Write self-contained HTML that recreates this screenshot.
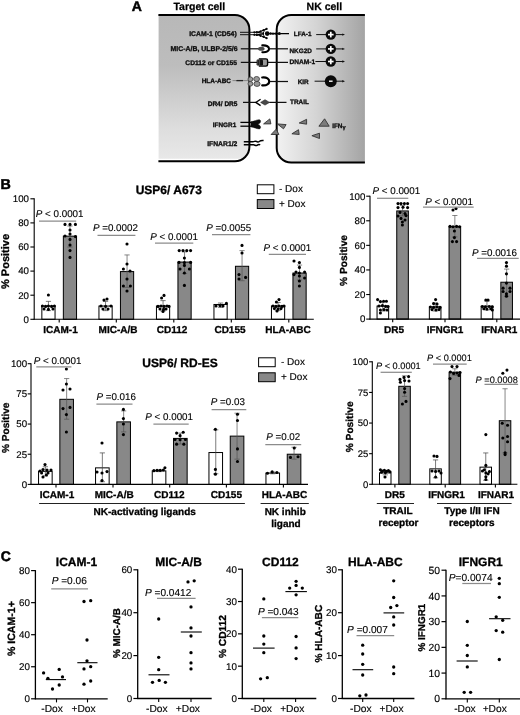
<!DOCTYPE html>
<html><head><meta charset="utf-8"><title>Figure</title>
<style>html,body{margin:0;padding:0;background:#fff}svg{display:block}</style></head>
<body>
<svg width="520" height="715" viewBox="0 0 520 715" text-rendering="geometricPrecision" font-family="Liberation Sans, Arial, sans-serif">
<defs>
<linearGradient id="gT" x1="0" y1="0" x2="0" y2="1"><stop offset="0" stop-color="#b8b8b8"/><stop offset="0.35" stop-color="#bdbdbd"/><stop offset="0.8" stop-color="#dedede"/><stop offset="1" stop-color="#e8e8e8"/></linearGradient>
<linearGradient id="gN" x1="0" y1="0" x2="1" y2="0"><stop offset="0" stop-color="#f2f2f2"/><stop offset="0.45" stop-color="#d4d4d4"/><stop offset="1" stop-color="#a4a4a4"/></linearGradient>
</defs>
<rect width="520" height="715" fill="#fff"/>
<text x="131.80" y="11.40" font-size="14" font-weight="bold" text-anchor="start" fill="#000" stroke="#000" stroke-width="0.5">A</text>
<text x="199.30" y="10.40" font-size="10.5" font-weight="bold" text-anchor="middle" fill="#000" stroke="#000" stroke-width="0.25">Target cell</text>
<text x="324.40" y="10.40" font-size="10.5" font-weight="bold" text-anchor="middle" fill="#000" stroke="#000" stroke-width="0.25">NK cell</text>
<path d="M158.6,15 H234.9 A14.5,14.5 0 0 1 249.4,29.5 V146.7 A12.0,12.0 0 0 1 237.4,158.7 H158.6 Z" fill="url(#gT)"/>
<path d="M158.4,15 H234.9 A14.5,14.5 0 0 1 249.4,29.5 V146.7 A14.5,14.5 0 0 1 234.9,161.2 H158.4" fill="none" stroke="#000" stroke-width="2"/>
<path d="M364.9,15 H291.2 A14.5,14.5 0 0 0 276.7,29.5 V148.0 A14.5,14.5 0 0 0 291.2,162.5 H364.9 Z" fill="url(#gN)"/>
<path d="M364.9,15 H291.2 A14.5,14.5 0 0 0 276.7,29.5 V148.0 A14.5,14.5 0 0 0 291.2,162.5 H364.9" fill="none" stroke="#000" stroke-width="2"/>
<text x="236.70" y="36.20" font-size="6.85" font-weight="bold" text-anchor="end" fill="#0d0d0d"  stroke="#0d0d0d" stroke-width="0.3">ICAM-1 (CD54)</text>
<text x="237.60" y="51.40" font-size="6.9" font-weight="bold" text-anchor="end" fill="#0d0d0d"  stroke="#0d0d0d" stroke-width="0.3">MIC-A/B, ULBP-2/5/6</text>
<text x="237.00" y="64.90" font-size="6.7" font-weight="bold" text-anchor="end" fill="#0d0d0d"  stroke="#0d0d0d" stroke-width="0.3">CD112 or CD155</text>
<text x="237.50" y="105.80" font-size="6.55" font-weight="bold" text-anchor="end" fill="#0d0d0d"  stroke="#0d0d0d" stroke-width="0.3">DR4/ DR5</text>
<text x="236.20" y="126.80" font-size="6.4" font-weight="bold" text-anchor="end" fill="#0d0d0d"  stroke="#0d0d0d" stroke-width="0.3">IFNGR1</text>
<text x="237.40" y="145.70" font-size="6.8" font-weight="bold" text-anchor="end" fill="#0d0d0d"  stroke="#0d0d0d" stroke-width="0.3">IFNAR1/2</text>
<text x="231.00" y="82.70" font-size="6.45" font-weight="bold" text-anchor="end" fill="#0d0d0d"  stroke="#0d0d0d" stroke-width="0.3">HLA-ABC</text>
<text x="293.80" y="36.20" font-size="6.35" font-weight="bold" text-anchor="start" fill="#0d0d0d"  stroke="#0d0d0d" stroke-width="0.3">LFA-1</text>
<text x="289.50" y="52.50" font-size="6.4" font-weight="bold" text-anchor="start" fill="#0d0d0d"  stroke="#0d0d0d" stroke-width="0.3">NKG2D</text>
<text x="289.50" y="64.30" font-size="6.6" font-weight="bold" text-anchor="start" fill="#0d0d0d"  stroke="#0d0d0d" stroke-width="0.3">DNAM-1</text>
<text x="297.70" y="83.70" font-size="6.4" font-weight="bold" text-anchor="start" fill="#0d0d0d"  stroke="#0d0d0d" stroke-width="0.3">KIR</text>
<text x="290.00" y="103.80" font-size="6.4" font-weight="bold" text-anchor="start" fill="#0d0d0d"  stroke="#0d0d0d" stroke-width="0.3">TRAIL</text>
<text x="332.2" y="127.6" font-size="6.4" font-weight="bold" fill="#0d0d0d" stroke="#0d0d0d" stroke-width="0.3">IFN<tspan font-size="5.6" dy="1">γ</tspan></text>
<line x1="240.00" y1="32.30" x2="256.00" y2="32.30" stroke="#111" stroke-width="1.0" />
<line x1="240.00" y1="34.70" x2="256.00" y2="34.70" stroke="#111" stroke-width="1.0" />
<path d="M256.8,32.2 L261,31.2 L266.6,28.9 M256.8,34.8 L261,35.8 L266.6,38.2 M256.8,32.4 L264,33.3 M256.8,34.7 L264,33.9 M266,33.6 H289" fill="none" stroke="#000" stroke-width="1.15"/>
<path d="M265.3,30.2 A3.8,3.8 0 0 0 265.3,37" fill="none" stroke="#000" stroke-width="0.9"/>
<circle cx="254.40" cy="32.30" r="1.15" fill="#0a0a0a"/>
<circle cx="254.40" cy="34.80" r="1.15" fill="#0a0a0a"/>
<circle cx="256.80" cy="32.20" r="1.2" fill="#0a0a0a"/>
<circle cx="256.80" cy="34.90" r="1.2" fill="#0a0a0a"/>
<circle cx="260.50" cy="31.20" r="1.0" fill="#0a0a0a"/>
<circle cx="260.50" cy="35.90" r="1.0" fill="#0a0a0a"/>
<circle cx="263.50" cy="30.10" r="1.0" fill="#0a0a0a"/>
<circle cx="263.50" cy="37.00" r="1.0" fill="#0a0a0a"/>
<circle cx="266.60" cy="28.90" r="1.15" fill="#0a0a0a"/>
<circle cx="266.60" cy="38.20" r="1.15" fill="#0a0a0a"/>
<circle cx="267.20" cy="33.60" r="2.3" fill="#0a0a0a"/>
<circle cx="270.60" cy="33.60" r="1.25" fill="#0a0a0a"/>
<circle cx="273.00" cy="33.60" r="1.2" fill="#0a0a0a"/>
<circle cx="275.30" cy="33.60" r="1.1" fill="#0a0a0a"/>
<circle cx="279.30" cy="33.60" r="1.5" fill="#0a0a0a"/>
<line x1="240.80" y1="48.80" x2="259.00" y2="48.80" stroke="#111" stroke-width="1.25" />
<ellipse cx="261.3" cy="48.8" rx="3.3" ry="2" fill="#4a4a4a"/>
<path d="M262.3,45.4 C271.3,44.6 271.3,53 262.3,52.2" fill="none" stroke="#000" stroke-width="2.1" stroke-linecap="round"/>
<line x1="269.00" y1="48.80" x2="288.00" y2="48.80" stroke="#111" stroke-width="1.25" />
<line x1="240.80" y1="62.40" x2="257.00" y2="62.40" stroke="#111" stroke-width="1.25" />
<path d="M258.8,58.9 H266 Q267.6,58.9 267.6,60.4 V64.6 Q267.6,66.1 266,66.1 H258.8" fill="#999" stroke="#000" stroke-width="1.4"/>
<rect x="256.6" y="59.5" width="6.4" height="6" rx="1.2" fill="#111"/>
<line x1="257.80" y1="59.60" x2="257.80" y2="65.40" stroke="#888" stroke-width="0.5" />
<line x1="259.60" y1="59.60" x2="259.60" y2="65.40" stroke="#888" stroke-width="0.5" />
<line x1="267.80" y1="62.40" x2="288.00" y2="62.40" stroke="#111" stroke-width="1.25" />
<line x1="232.50" y1="80.60" x2="249.00" y2="80.60" stroke="#444" stroke-width="0.5" />
<line x1="236.40" y1="80.60" x2="243.00" y2="80.60" stroke="#222" stroke-width="1.3" />
<ellipse cx="250.4" cy="79.2" rx="2.4" ry="2.3" fill="#9a9a9a" stroke="#444" stroke-width="0.9"/>
<ellipse cx="250.4" cy="83.8" rx="2.4" ry="2.3" fill="#9a9a9a" stroke="#444" stroke-width="0.9"/>
<ellipse cx="256.6" cy="79" rx="2.9" ry="2.5" fill="#9a9a9a" stroke="#444" stroke-width="0.9"/>
<ellipse cx="257" cy="83.9" rx="3.1" ry="2.5" fill="#9a9a9a" stroke="#444" stroke-width="0.9"/>
<path d="M262.2,77.5 C271.6,76.5 271.6,86.3 262.2,85.3" fill="none" stroke="#000" stroke-width="2.2" stroke-linecap="round"/>
<line x1="270.00" y1="81.50" x2="288.00" y2="81.50" stroke="#111" stroke-width="1.25" />
<line x1="243.00" y1="102.40" x2="256.00" y2="102.40" stroke="#111" stroke-width="1.25" />
<path d="M260.6,99.3 L255.8,102.4 L260.6,105.6" fill="none" stroke="#000" stroke-width="1.3"/>
<path d="M260.6,102.4 L265,99.7 L269.5,102.4 L265,105.1 Z" fill="#484848" stroke="#222" stroke-width="0.6"/>
<line x1="269.30" y1="102.40" x2="286.50" y2="102.40" stroke="#111" stroke-width="1.25" />
<line x1="240.40" y1="122.40" x2="254.00" y2="122.40" stroke="#000" stroke-width="1.3" />
<line x1="240.40" y1="126.20" x2="254.00" y2="126.20" stroke="#000" stroke-width="1.3" />
<path d="M251,121.7 C254,121.6 256.5,119.6 259.3,119.7 C261.3,120 260.8,123.2 258.8,123.7 C258,124 258,124.6 258.8,124.9 C260.8,125.4 261.3,128.6 259.3,128.9 C256.5,129 254,127 251,126.9 Z" fill="#0a0a0a" stroke="#0a0a0a" stroke-width="0.5" stroke-linejoin="round"/>
<path d="M243.8,141.7 H253 C254.5,141.7 255,140.6 256.3,141.4 C257.6,142.4 258.3,142.4 259.6,141.3 C260.8,140.3 262,140.4 263.6,140.6 M243.8,144.8 H253.5 C255,144.8 255.6,146.2 257,145.3 C258.2,144.4 259,144.2 260.2,144.8" fill="none" stroke="#000" stroke-width="1.5"/>
<polygon points="263.6,123.9 269.8,118.9 270.9,123.9" fill="#7c7c7c" stroke="#333" stroke-width="0.9" stroke-linejoin="round"/>
<polygon points="277.3,123.9 286.1,124.6 283.5,128.8" fill="#7c7c7c" stroke="#333" stroke-width="0.9" stroke-linejoin="round"/>
<polygon points="271.1,134.5 276.2,129.2 278.9,134.5" fill="#7c7c7c" stroke="#333" stroke-width="0.9" stroke-linejoin="round"/>
<polygon points="299.2,123 306.6,119.3 306.6,124.2" fill="#7c7c7c" stroke="#333" stroke-width="0.9" stroke-linejoin="round"/>
<polygon points="291.9,133.8 298.5,129.7 299.2,134.5" fill="#7c7c7c" stroke="#333" stroke-width="0.9" stroke-linejoin="round"/>
<polygon points="318.9,126.2 324.6,118.8 329.2,126.2" fill="#7c7c7c" stroke="#333" stroke-width="0.9" stroke-linejoin="round"/>
<polygon points="311.9,135.7 319.5,133.2 319.5,138.5" fill="#7c7c7c" stroke="#333" stroke-width="0.9" stroke-linejoin="round"/>
<line x1="316.20" y1="34.60" x2="330.00" y2="34.60" stroke="#111" stroke-width="1.0" />
<line x1="330.00" y1="34.60" x2="343.00" y2="34.60" stroke="#111" stroke-width="1.0" />
<polygon points="342.3,33.4 345,34.6 342.3,35.800000000000004" fill="#111"/>
<circle cx="330.80" cy="34.60" r="5.2" fill="#0a0a0a"/>
<line x1="328.00" y1="34.60" x2="333.60" y2="34.60" stroke="#fff" stroke-width="1.7" />
<line x1="330.80" y1="31.80" x2="330.80" y2="37.40" stroke="#fff" stroke-width="1.7" />
<line x1="316.20" y1="48.90" x2="330.00" y2="48.90" stroke="#111" stroke-width="1.0" />
<line x1="330.00" y1="48.90" x2="343.00" y2="48.90" stroke="#111" stroke-width="1.0" />
<polygon points="342.3,47.699999999999996 345,48.9 342.3,50.1" fill="#111"/>
<circle cx="330.80" cy="48.90" r="5.2" fill="#0a0a0a"/>
<line x1="328.00" y1="48.90" x2="333.60" y2="48.90" stroke="#fff" stroke-width="1.7" />
<line x1="330.80" y1="46.10" x2="330.80" y2="51.70" stroke="#fff" stroke-width="1.7" />
<line x1="315.40" y1="61.50" x2="330.00" y2="61.50" stroke="#111" stroke-width="1.0" />
<line x1="330.00" y1="61.50" x2="343.00" y2="61.50" stroke="#111" stroke-width="1.0" />
<polygon points="342.3,60.3 345,61.5 342.3,62.7" fill="#111"/>
<circle cx="330.80" cy="61.50" r="5.2" fill="#0a0a0a"/>
<line x1="328.00" y1="61.50" x2="333.60" y2="61.50" stroke="#fff" stroke-width="1.7" />
<line x1="330.80" y1="58.70" x2="330.80" y2="64.30" stroke="#fff" stroke-width="1.7" />
<line x1="314.60" y1="81.20" x2="330.00" y2="81.20" stroke="#111" stroke-width="1.0" />
<line x1="330.00" y1="81.20" x2="343.00" y2="81.20" stroke="#111" stroke-width="1.0" />
<polygon points="342.3,80.0 345,81.2 342.3,82.4" fill="#111"/>
<circle cx="330.80" cy="81.20" r="6.0" fill="#0a0a0a"/>
<line x1="329.00" y1="81.20" x2="332.60" y2="81.20" stroke="#fff" stroke-width="1.4" />
<text x="0.60" y="189.40" font-size="14.3" font-weight="bold" text-anchor="start" fill="#000" stroke="#000" stroke-width="0.5">B</text>
<text x="168.80" y="193.70" font-size="12" font-weight="bold" text-anchor="middle" fill="#000"  stroke="#000" stroke-width="0.3">USP6/ A673</text>
<text x="180.00" y="367.00" font-size="12" font-weight="bold" text-anchor="middle" fill="#000"  stroke="#000" stroke-width="0.3">USP6/ RD-ES</text>
<rect x="257.3" y="184.8" width="16.6" height="8.9" fill="#fff" stroke="#000" stroke-width="1"/>
<rect x="257.3" y="199.6" width="16.6" height="8.9" fill="#888888" stroke="#000" stroke-width="1"/>
<text x="279.00" y="191.60" font-size="10" text-anchor="start" fill="#000"  stroke="#000" stroke-width="0.15">- Dox</text>
<text x="279.00" y="206.90" font-size="10" text-anchor="start" fill="#000"  stroke="#000" stroke-width="0.15">+ Dox</text>
<rect x="258.6" y="357.8" width="16.6" height="8.9" fill="#fff" stroke="#000" stroke-width="1"/>
<rect x="258.6" y="372.8" width="16.6" height="8.9" fill="#888888" stroke="#000" stroke-width="1"/>
<text x="281.00" y="364.60" font-size="10" text-anchor="start" fill="#000"  stroke="#000" stroke-width="0.15">- Dox</text>
<text x="281.00" y="380.10" font-size="10" text-anchor="start" fill="#000"  stroke="#000" stroke-width="0.15">+ Dox</text>
<rect x="41.85" y="306.05" width="13.2" height="13.25" fill="#fff" stroke="#000" stroke-width="1"/>
<line x1="48.45" y1="310.62" x2="48.45" y2="301.35" stroke="#444" stroke-width="0.7" />
<line x1="45.85" y1="310.62" x2="51.05" y2="310.62" stroke="#444" stroke-width="0.7" />
<line x1="45.85" y1="301.35" x2="51.05" y2="301.35" stroke="#444" stroke-width="0.7" />
<circle cx="48.40" cy="295.00" r="1.55" fill="#000"/>
<circle cx="42.40" cy="306.00" r="1.55" fill="#000"/>
<circle cx="45.60" cy="306.40" r="1.55" fill="#000"/>
<circle cx="48.40" cy="306.00" r="1.55" fill="#000"/>
<circle cx="51.60" cy="306.40" r="1.55" fill="#000"/>
<circle cx="54.40" cy="306.00" r="1.55" fill="#000"/>
<circle cx="44.00" cy="309.00" r="1.55" fill="#000"/>
<circle cx="48.40" cy="309.40" r="1.55" fill="#000"/>
<circle cx="53.00" cy="309.00" r="1.55" fill="#000"/>
<rect x="63.35" y="236.16" width="13.2" height="83.15" fill="#888888" stroke="#000" stroke-width="1"/>
<line x1="69.95" y1="247.00" x2="69.95" y2="226.03" stroke="#555" stroke-width="0.7" />
<line x1="67.35" y1="247.00" x2="72.55" y2="247.00" stroke="#555" stroke-width="0.7" />
<line x1="67.35" y1="226.03" x2="72.55" y2="226.03" stroke="#555" stroke-width="0.7" />
<circle cx="65.00" cy="224.40" r="1.55" fill="#000"/>
<circle cx="70.00" cy="224.40" r="1.55" fill="#000"/>
<circle cx="75.40" cy="224.40" r="1.55" fill="#000"/>
<circle cx="70.00" cy="230.00" r="1.55" fill="#000"/>
<circle cx="70.00" cy="234.00" r="1.55" fill="#000"/>
<circle cx="65.00" cy="236.00" r="1.55" fill="#000"/>
<circle cx="75.40" cy="236.60" r="1.55" fill="#000"/>
<circle cx="70.00" cy="239.40" r="1.55" fill="#000"/>
<circle cx="70.00" cy="245.00" r="1.55" fill="#000"/>
<circle cx="70.00" cy="250.60" r="1.55" fill="#000"/>
<circle cx="70.00" cy="257.40" r="1.55" fill="#000"/>
<rect x="98.95" y="306.05" width="13.2" height="13.25" fill="#fff" stroke="#000" stroke-width="1"/>
<line x1="105.55" y1="310.62" x2="105.55" y2="301.35" stroke="#444" stroke-width="0.7" />
<line x1="102.95" y1="310.62" x2="108.15" y2="310.62" stroke="#444" stroke-width="0.7" />
<line x1="102.95" y1="301.35" x2="108.15" y2="301.35" stroke="#444" stroke-width="0.7" />
<circle cx="104.00" cy="300.00" r="1.55" fill="#000"/>
<circle cx="107.00" cy="299.00" r="1.55" fill="#000"/>
<circle cx="101.00" cy="306.00" r="1.55" fill="#000"/>
<circle cx="105.60" cy="306.40" r="1.55" fill="#000"/>
<circle cx="111.00" cy="306.00" r="1.55" fill="#000"/>
<circle cx="103.00" cy="309.00" r="1.55" fill="#000"/>
<circle cx="108.00" cy="309.00" r="1.55" fill="#000"/>
<rect x="120.45" y="271.58" width="13.2" height="47.72" fill="#888888" stroke="#000" stroke-width="1"/>
<line x1="127.05" y1="287.37" x2="127.05" y2="254.95" stroke="#555" stroke-width="0.7" />
<line x1="124.45" y1="287.37" x2="129.65" y2="287.37" stroke="#555" stroke-width="0.7" />
<line x1="124.45" y1="254.95" x2="129.65" y2="254.95" stroke="#555" stroke-width="0.7" />
<circle cx="127.00" cy="244.00" r="1.55" fill="#000"/>
<circle cx="127.00" cy="264.00" r="1.55" fill="#000"/>
<circle cx="123.40" cy="269.00" r="1.55" fill="#000"/>
<circle cx="130.00" cy="271.00" r="1.55" fill="#000"/>
<circle cx="127.00" cy="279.00" r="1.55" fill="#000"/>
<circle cx="123.40" cy="286.00" r="1.55" fill="#000"/>
<circle cx="130.40" cy="286.00" r="1.55" fill="#000"/>
<circle cx="127.00" cy="291.00" r="1.55" fill="#000"/>
<rect x="156.45" y="306.05" width="13.2" height="13.25" fill="#fff" stroke="#000" stroke-width="1"/>
<line x1="163.05" y1="310.99" x2="163.05" y2="300.62" stroke="#444" stroke-width="0.7" />
<line x1="160.45" y1="310.99" x2="165.65" y2="310.99" stroke="#444" stroke-width="0.7" />
<line x1="160.45" y1="300.62" x2="165.65" y2="300.62" stroke="#444" stroke-width="0.7" />
<circle cx="164.00" cy="295.40" r="1.55" fill="#000"/>
<circle cx="161.60" cy="298.00" r="1.55" fill="#000"/>
<circle cx="158.00" cy="306.40" r="1.55" fill="#000"/>
<circle cx="161.00" cy="306.00" r="1.55" fill="#000"/>
<circle cx="164.00" cy="306.40" r="1.55" fill="#000"/>
<circle cx="167.00" cy="306.00" r="1.55" fill="#000"/>
<circle cx="169.00" cy="306.40" r="1.55" fill="#000"/>
<circle cx="160.00" cy="309.00" r="1.55" fill="#000"/>
<circle cx="163.60" cy="309.40" r="1.55" fill="#000"/>
<circle cx="166.00" cy="309.00" r="1.55" fill="#000"/>
<circle cx="163.00" cy="311.40" r="1.55" fill="#000"/>
<rect x="177.95" y="262.06" width="13.2" height="57.24" fill="#888888" stroke="#000" stroke-width="1"/>
<line x1="184.55" y1="273.51" x2="184.55" y2="251.82" stroke="#555" stroke-width="0.7" />
<line x1="181.95" y1="273.51" x2="187.15" y2="273.51" stroke="#555" stroke-width="0.7" />
<line x1="181.95" y1="251.82" x2="187.15" y2="251.82" stroke="#555" stroke-width="0.7" />
<circle cx="179.20" cy="250.60" r="1.55" fill="#000"/>
<circle cx="183.00" cy="250.60" r="1.55" fill="#000"/>
<circle cx="186.80" cy="250.60" r="1.55" fill="#000"/>
<circle cx="190.60" cy="250.60" r="1.55" fill="#000"/>
<circle cx="179.00" cy="262.40" r="1.55" fill="#000"/>
<circle cx="190.60" cy="262.40" r="1.55" fill="#000"/>
<circle cx="184.40" cy="262.60" r="1.55" fill="#000"/>
<circle cx="184.40" cy="258.00" r="1.55" fill="#000"/>
<circle cx="184.40" cy="265.40" r="1.55" fill="#000"/>
<circle cx="180.00" cy="269.00" r="1.55" fill="#000"/>
<circle cx="189.40" cy="269.00" r="1.55" fill="#000"/>
<circle cx="184.40" cy="273.00" r="1.55" fill="#000"/>
<circle cx="184.40" cy="285.40" r="1.55" fill="#000"/>
<rect x="213.95" y="304.48" width="13.2" height="14.82" fill="#fff" stroke="#000" stroke-width="1"/>
<line x1="220.55" y1="307.37" x2="220.55" y2="303.03" stroke="#444" stroke-width="0.7" />
<line x1="217.95" y1="307.37" x2="223.15" y2="307.37" stroke="#444" stroke-width="0.7" />
<line x1="217.95" y1="303.03" x2="223.15" y2="303.03" stroke="#444" stroke-width="0.7" />
<circle cx="216.00" cy="306.00" r="1.55" fill="#000"/>
<circle cx="220.00" cy="305.60" r="1.55" fill="#000"/>
<circle cx="223.00" cy="306.00" r="1.55" fill="#000"/>
<circle cx="226.40" cy="303.40" r="1.55" fill="#000"/>
<rect x="235.45" y="266.28" width="13.2" height="53.02" fill="#888888" stroke="#000" stroke-width="1"/>
<line x1="242.05" y1="280.74" x2="242.05" y2="250.62" stroke="#555" stroke-width="0.7" />
<line x1="239.45" y1="280.74" x2="244.65" y2="280.74" stroke="#555" stroke-width="0.7" />
<line x1="239.45" y1="250.62" x2="244.65" y2="250.62" stroke="#555" stroke-width="0.7" />
<circle cx="242.00" cy="245.40" r="1.55" fill="#000"/>
<circle cx="242.00" cy="253.00" r="1.55" fill="#000"/>
<circle cx="239.00" cy="274.60" r="1.55" fill="#000"/>
<circle cx="245.60" cy="277.40" r="1.55" fill="#000"/>
<circle cx="239.00" cy="279.00" r="1.55" fill="#000"/>
<rect x="271.45" y="306.05" width="13.2" height="13.25" fill="#fff" stroke="#000" stroke-width="1"/>
<line x1="278.05" y1="310.62" x2="278.05" y2="302.55" stroke="#444" stroke-width="0.7" />
<line x1="275.45" y1="310.62" x2="280.65" y2="310.62" stroke="#444" stroke-width="0.7" />
<line x1="275.45" y1="302.55" x2="280.65" y2="302.55" stroke="#444" stroke-width="0.7" />
<circle cx="279.00" cy="299.60" r="1.55" fill="#000"/>
<circle cx="276.40" cy="302.00" r="1.55" fill="#000"/>
<circle cx="273.00" cy="306.00" r="1.55" fill="#000"/>
<circle cx="276.00" cy="306.40" r="1.55" fill="#000"/>
<circle cx="279.00" cy="306.00" r="1.55" fill="#000"/>
<circle cx="282.00" cy="306.40" r="1.55" fill="#000"/>
<circle cx="284.00" cy="306.00" r="1.55" fill="#000"/>
<circle cx="274.40" cy="308.60" r="1.55" fill="#000"/>
<circle cx="278.00" cy="309.00" r="1.55" fill="#000"/>
<circle cx="281.00" cy="308.60" r="1.55" fill="#000"/>
<circle cx="277.00" cy="311.00" r="1.55" fill="#000"/>
<rect x="292.95" y="273.03" width="13.2" height="46.27" fill="#888888" stroke="#000" stroke-width="1"/>
<line x1="299.55" y1="280.02" x2="299.55" y2="265.07" stroke="#555" stroke-width="0.7" />
<line x1="296.95" y1="280.02" x2="302.15" y2="280.02" stroke="#555" stroke-width="0.7" />
<line x1="296.95" y1="265.07" x2="302.15" y2="265.07" stroke="#555" stroke-width="0.7" />
<circle cx="294.00" cy="261.00" r="1.55" fill="#000"/>
<circle cx="299.40" cy="262.60" r="1.55" fill="#000"/>
<circle cx="299.40" cy="267.40" r="1.55" fill="#000"/>
<circle cx="296.00" cy="272.00" r="1.55" fill="#000"/>
<circle cx="304.60" cy="272.00" r="1.55" fill="#000"/>
<circle cx="299.40" cy="273.00" r="1.55" fill="#000"/>
<circle cx="294.00" cy="274.60" r="1.55" fill="#000"/>
<circle cx="299.40" cy="276.00" r="1.55" fill="#000"/>
<circle cx="304.60" cy="278.00" r="1.55" fill="#000"/>
<circle cx="299.40" cy="281.00" r="1.55" fill="#000"/>
<circle cx="299.40" cy="286.00" r="1.55" fill="#000"/>
<line x1="34.20" y1="198.30" x2="34.20" y2="319.80" stroke="#000" stroke-width="1.1" />
<line x1="33.70" y1="319.30" x2="313.80" y2="319.30" stroke="#000" stroke-width="1.1" />
<line x1="30.40" y1="319.30" x2="34.20" y2="319.30" stroke="#000" stroke-width="1.1" />
<text x="29.00" y="322.60" font-size="9.7" text-anchor="end" fill="#000"  stroke="#000" stroke-width="0.15">0</text>
<line x1="30.40" y1="295.20" x2="34.20" y2="295.20" stroke="#000" stroke-width="1.1" />
<text x="29.00" y="298.50" font-size="9.7" text-anchor="end" fill="#000"  stroke="#000" stroke-width="0.15">20</text>
<line x1="30.40" y1="271.10" x2="34.20" y2="271.10" stroke="#000" stroke-width="1.1" />
<text x="29.00" y="274.40" font-size="9.7" text-anchor="end" fill="#000"  stroke="#000" stroke-width="0.15">40</text>
<line x1="30.40" y1="247.00" x2="34.20" y2="247.00" stroke="#000" stroke-width="1.1" />
<text x="29.00" y="250.30" font-size="9.7" text-anchor="end" fill="#000"  stroke="#000" stroke-width="0.15">60</text>
<line x1="30.40" y1="222.90" x2="34.20" y2="222.90" stroke="#000" stroke-width="1.1" />
<text x="29.00" y="226.20" font-size="9.7" text-anchor="end" fill="#000"  stroke="#000" stroke-width="0.15">80</text>
<line x1="30.40" y1="198.80" x2="34.20" y2="198.80" stroke="#000" stroke-width="1.1" />
<text x="29.00" y="202.10" font-size="9.7" text-anchor="end" fill="#000"  stroke="#000" stroke-width="0.15">100</text>
<line x1="59.20" y1="319.30" x2="59.20" y2="322.50" stroke="#000" stroke-width="1.1" />
<line x1="116.30" y1="319.30" x2="116.30" y2="322.50" stroke="#000" stroke-width="1.1" />
<line x1="173.80" y1="319.30" x2="173.80" y2="322.50" stroke="#000" stroke-width="1.1" />
<line x1="231.30" y1="319.30" x2="231.30" y2="322.50" stroke="#000" stroke-width="1.1" />
<line x1="288.80" y1="319.30" x2="288.80" y2="322.50" stroke="#000" stroke-width="1.1" />
<text transform="translate(8.50,261.50) rotate(-90)" font-size="11" font-weight="bold" text-anchor="middle" stroke="#000" stroke-width="0.3">% Positive</text>
<text x="60.50" y="332.80" font-size="10" font-weight="bold" text-anchor="middle" fill="#000"  stroke="#000" stroke-width="0.3">ICAM-1</text>
<text x="118.00" y="332.80" font-size="10" font-weight="bold" text-anchor="middle" fill="#000"  stroke="#000" stroke-width="0.3">MIC-A/B</text>
<text x="172.00" y="332.80" font-size="10" font-weight="bold" text-anchor="middle" fill="#000"  stroke="#000" stroke-width="0.3">CD112</text>
<text x="230.00" y="332.80" font-size="10" font-weight="bold" text-anchor="middle" fill="#000"  stroke="#000" stroke-width="0.3">CD155</text>
<text x="288.00" y="332.80" font-size="10" font-weight="bold" text-anchor="middle" fill="#000"  stroke="#000" stroke-width="0.3">HLA-ABC</text>
<text x="35.80" y="217.00" font-size="9.8" text-anchor="start" fill="#000" stroke="#000" stroke-width="0.12"><tspan font-style="italic">P</tspan> &lt; 0.0001</text>
<line x1="39.00" y1="221.20" x2="76.20" y2="221.20" stroke="#8c8c8c" stroke-width="1.25" />
<text x="92.90" y="231.40" font-size="9.8" text-anchor="start" fill="#000" stroke="#000" stroke-width="0.12"><tspan font-style="italic">P</tspan> =0.0002</text>
<line x1="97.50" y1="235.40" x2="135.40" y2="235.40" stroke="#8c8c8c" stroke-width="1.25" />
<text x="150.20" y="239.50" font-size="9.8" text-anchor="start" fill="#000" stroke="#000" stroke-width="0.12"><tspan font-style="italic">P</tspan> &lt; 0.0001</text>
<line x1="155.00" y1="243.20" x2="193.30" y2="243.20" stroke="#8c8c8c" stroke-width="1.25" />
<text x="206.20" y="231.00" font-size="9.8" text-anchor="start" fill="#000" stroke="#000" stroke-width="0.12"><tspan font-style="italic">P</tspan> =0.0055</text>
<line x1="212.00" y1="234.60" x2="250.40" y2="234.60" stroke="#8c8c8c" stroke-width="1.25" />
<text x="263.50" y="250.80" font-size="9.8" text-anchor="start" fill="#000" stroke="#000" stroke-width="0.12"><tspan font-style="italic">P</tspan> &lt; 0.0001</text>
<line x1="268.80" y1="254.30" x2="306.00" y2="254.30" stroke="#8c8c8c" stroke-width="1.25" />
<rect x="377.05" y="306.07" width="11.6" height="13.03" fill="#fff" stroke="#000" stroke-width="1"/>
<line x1="382.85" y1="310.99" x2="382.85" y2="301.89" stroke="#444" stroke-width="0.7" />
<line x1="380.25" y1="310.99" x2="385.45" y2="310.99" stroke="#444" stroke-width="0.7" />
<line x1="380.25" y1="301.89" x2="385.45" y2="301.89" stroke="#444" stroke-width="0.7" />
<circle cx="377.60" cy="299.60" r="1.55" fill="#000"/>
<circle cx="380.40" cy="301.60" r="1.55" fill="#000"/>
<circle cx="383.60" cy="301.20" r="1.55" fill="#000"/>
<circle cx="386.40" cy="301.20" r="1.55" fill="#000"/>
<circle cx="379.00" cy="306.00" r="1.55" fill="#000"/>
<circle cx="382.40" cy="305.60" r="1.55" fill="#000"/>
<circle cx="385.60" cy="306.40" r="1.55" fill="#000"/>
<circle cx="388.00" cy="306.60" r="1.55" fill="#000"/>
<circle cx="380.40" cy="310.00" r="1.55" fill="#000"/>
<circle cx="384.00" cy="309.60" r="1.55" fill="#000"/>
<circle cx="387.00" cy="310.00" r="1.55" fill="#000"/>
<circle cx="380.40" cy="313.00" r="1.55" fill="#000"/>
<rect x="396.75" y="210.95" width="11.6" height="108.15" fill="#888888" stroke="#000" stroke-width="1"/>
<line x1="402.55" y1="215.86" x2="402.55" y2="205.54" stroke="#555" stroke-width="0.7" />
<line x1="399.95" y1="215.86" x2="405.15" y2="215.86" stroke="#555" stroke-width="0.7" />
<line x1="399.95" y1="205.54" x2="405.15" y2="205.54" stroke="#555" stroke-width="0.7" />
<circle cx="398.00" cy="203.60" r="1.55" fill="#000"/>
<circle cx="401.00" cy="203.60" r="1.55" fill="#000"/>
<circle cx="404.40" cy="203.60" r="1.55" fill="#000"/>
<circle cx="407.60" cy="203.60" r="1.55" fill="#000"/>
<circle cx="398.00" cy="207.60" r="1.55" fill="#000"/>
<circle cx="403.00" cy="207.20" r="1.55" fill="#000"/>
<circle cx="407.60" cy="207.60" r="1.55" fill="#000"/>
<circle cx="400.00" cy="212.40" r="1.55" fill="#000"/>
<circle cx="405.00" cy="213.60" r="1.55" fill="#000"/>
<circle cx="398.00" cy="216.00" r="1.55" fill="#000"/>
<circle cx="406.00" cy="215.60" r="1.55" fill="#000"/>
<circle cx="401.00" cy="218.40" r="1.55" fill="#000"/>
<circle cx="405.00" cy="220.00" r="1.55" fill="#000"/>
<circle cx="402.40" cy="222.00" r="1.55" fill="#000"/>
<circle cx="402.40" cy="225.00" r="1.55" fill="#000"/>
<rect x="429.35" y="306.93" width="11.6" height="12.17" fill="#fff" stroke="#000" stroke-width="1"/>
<line x1="435.15" y1="310.99" x2="435.15" y2="303.00" stroke="#444" stroke-width="0.7" />
<line x1="432.55" y1="310.99" x2="437.75" y2="310.99" stroke="#444" stroke-width="0.7" />
<line x1="432.55" y1="303.00" x2="437.75" y2="303.00" stroke="#444" stroke-width="0.7" />
<circle cx="435.60" cy="299.60" r="1.55" fill="#000"/>
<circle cx="433.60" cy="303.60" r="1.55" fill="#000"/>
<circle cx="437.00" cy="304.00" r="1.55" fill="#000"/>
<circle cx="430.40" cy="307.00" r="1.55" fill="#000"/>
<circle cx="433.60" cy="307.40" r="1.55" fill="#000"/>
<circle cx="437.00" cy="307.00" r="1.55" fill="#000"/>
<circle cx="440.00" cy="307.40" r="1.55" fill="#000"/>
<circle cx="432.00" cy="309.60" r="1.55" fill="#000"/>
<circle cx="436.00" cy="310.00" r="1.55" fill="#000"/>
<circle cx="439.00" cy="309.60" r="1.55" fill="#000"/>
<rect x="449.05" y="226.43" width="11.6" height="92.67" fill="#888888" stroke="#000" stroke-width="1"/>
<line x1="454.85" y1="236.88" x2="454.85" y2="215.50" stroke="#555" stroke-width="0.7" />
<line x1="452.25" y1="236.88" x2="457.45" y2="236.88" stroke="#555" stroke-width="0.7" />
<line x1="452.25" y1="215.50" x2="457.45" y2="215.50" stroke="#555" stroke-width="0.7" />
<circle cx="453.00" cy="210.00" r="1.55" fill="#000"/>
<circle cx="456.00" cy="208.60" r="1.55" fill="#000"/>
<circle cx="450.00" cy="226.40" r="1.55" fill="#000"/>
<circle cx="453.00" cy="226.80" r="1.55" fill="#000"/>
<circle cx="456.60" cy="226.40" r="1.55" fill="#000"/>
<circle cx="459.60" cy="226.80" r="1.55" fill="#000"/>
<circle cx="454.40" cy="231.00" r="1.55" fill="#000"/>
<circle cx="454.40" cy="237.60" r="1.55" fill="#000"/>
<circle cx="452.40" cy="241.60" r="1.55" fill="#000"/>
<circle cx="456.60" cy="241.60" r="1.55" fill="#000"/>
<rect x="481.15" y="306.20" width="11.6" height="12.90" fill="#fff" stroke="#000" stroke-width="1"/>
<line x1="486.95" y1="310.01" x2="486.95" y2="301.03" stroke="#444" stroke-width="0.7" />
<line x1="484.35" y1="310.01" x2="489.55" y2="310.01" stroke="#444" stroke-width="0.7" />
<line x1="484.35" y1="301.03" x2="489.55" y2="301.03" stroke="#444" stroke-width="0.7" />
<circle cx="485.85" cy="300.00" r="1.55" fill="#000"/>
<circle cx="488.00" cy="300.00" r="1.55" fill="#000"/>
<circle cx="482.31" cy="306.46" r="1.55" fill="#000"/>
<circle cx="485.38" cy="306.77" r="1.55" fill="#000"/>
<circle cx="489.23" cy="306.46" r="1.55" fill="#000"/>
<circle cx="492.31" cy="306.77" r="1.55" fill="#000"/>
<circle cx="483.85" cy="308.77" r="1.55" fill="#000"/>
<circle cx="486.92" cy="309.08" r="1.55" fill="#000"/>
<circle cx="490.77" cy="308.77" r="1.55" fill="#000"/>
<circle cx="492.31" cy="310.00" r="1.55" fill="#000"/>
<rect x="500.85" y="282.23" width="11.6" height="36.87" fill="#888888" stroke="#000" stroke-width="1"/>
<line x1="506.65" y1="296.12" x2="506.65" y2="269.08" stroke="#555" stroke-width="0.7" />
<line x1="504.05" y1="296.12" x2="509.25" y2="296.12" stroke="#555" stroke-width="0.7" />
<line x1="504.05" y1="269.08" x2="509.25" y2="269.08" stroke="#555" stroke-width="0.7" />
<circle cx="506.46" cy="262.62" r="1.55" fill="#000"/>
<circle cx="506.46" cy="266.15" r="1.55" fill="#000"/>
<circle cx="506.46" cy="273.85" r="1.55" fill="#000"/>
<circle cx="506.46" cy="283.08" r="1.55" fill="#000"/>
<circle cx="503.08" cy="288.15" r="1.55" fill="#000"/>
<circle cx="510.00" cy="288.15" r="1.55" fill="#000"/>
<circle cx="503.08" cy="291.54" r="1.55" fill="#000"/>
<circle cx="510.00" cy="291.54" r="1.55" fill="#000"/>
<circle cx="506.46" cy="293.85" r="1.55" fill="#000"/>
<circle cx="506.46" cy="296.15" r="1.55" fill="#000"/>
<line x1="370.00" y1="195.70" x2="370.00" y2="319.60" stroke="#000" stroke-width="1.1" />
<line x1="369.50" y1="319.10" x2="520.00" y2="319.10" stroke="#000" stroke-width="1.1" />
<line x1="366.20" y1="319.10" x2="370.00" y2="319.10" stroke="#000" stroke-width="1.1" />
<text x="365.30" y="322.40" font-size="9.7" text-anchor="end" fill="#000"  stroke="#000" stroke-width="0.15">0</text>
<line x1="366.20" y1="294.52" x2="370.00" y2="294.52" stroke="#000" stroke-width="1.1" />
<text x="365.30" y="297.82" font-size="9.7" text-anchor="end" fill="#000"  stroke="#000" stroke-width="0.15">20</text>
<line x1="366.20" y1="269.94" x2="370.00" y2="269.94" stroke="#000" stroke-width="1.1" />
<text x="365.30" y="273.24" font-size="9.7" text-anchor="end" fill="#000"  stroke="#000" stroke-width="0.15">40</text>
<line x1="366.20" y1="245.36" x2="370.00" y2="245.36" stroke="#000" stroke-width="1.1" />
<text x="365.30" y="248.66" font-size="9.7" text-anchor="end" fill="#000"  stroke="#000" stroke-width="0.15">60</text>
<line x1="366.20" y1="220.78" x2="370.00" y2="220.78" stroke="#000" stroke-width="1.1" />
<text x="365.30" y="224.08" font-size="9.7" text-anchor="end" fill="#000"  stroke="#000" stroke-width="0.15">80</text>
<line x1="366.20" y1="196.20" x2="370.00" y2="196.20" stroke="#000" stroke-width="1.1" />
<text x="365.30" y="199.50" font-size="9.7" text-anchor="end" fill="#000"  stroke="#000" stroke-width="0.15">100</text>
<line x1="392.70" y1="319.10" x2="392.70" y2="322.30" stroke="#000" stroke-width="1.1" />
<line x1="445.00" y1="319.10" x2="445.00" y2="322.30" stroke="#000" stroke-width="1.1" />
<line x1="496.80" y1="319.10" x2="496.80" y2="322.30" stroke="#000" stroke-width="1.1" />
<text transform="translate(346.60,260.50) rotate(-90)" font-size="10.2" font-weight="bold" text-anchor="middle" stroke="#000" stroke-width="0.3">% Positive</text>
<text x="394.00" y="332.90" font-size="10" font-weight="bold" text-anchor="middle" fill="#000"  stroke="#000" stroke-width="0.3">DR5</text>
<text x="445.00" y="332.90" font-size="10" font-weight="bold" text-anchor="middle" fill="#000"  stroke="#000" stroke-width="0.3">IFNGR1</text>
<text x="499.30" y="332.90" font-size="10" font-weight="bold" text-anchor="middle" fill="#000"  stroke="#000" stroke-width="0.3">IFNAR1</text>
<text x="372.50" y="194.20" font-size="9.8" text-anchor="start" fill="#000" stroke="#000" stroke-width="0.12"><tspan font-style="italic">P</tspan> &lt; 0.0001</text>
<line x1="377.00" y1="198.30" x2="408.30" y2="198.30" stroke="#8c8c8c" stroke-width="1.25" />
<text x="425.20" y="204.50" font-size="9.8" text-anchor="start" fill="#000" stroke="#000" stroke-width="0.12"><tspan font-style="italic">P</tspan> &lt; 0.0001</text>
<line x1="423.00" y1="207.20" x2="473.70" y2="207.20" stroke="#8c8c8c" stroke-width="1.25" />
<text x="472.00" y="256.20" font-size="9.8" text-anchor="start" fill="#000" stroke="#000" stroke-width="0.12"><tspan font-style="italic">P</tspan> =0.0016</text>
<line x1="477.00" y1="258.30" x2="518.70" y2="258.30" stroke="#8c8c8c" stroke-width="1.25" />
<rect x="38.55" y="471.36" width="13.6" height="13.04" fill="#fff" stroke="#000" stroke-width="1"/>
<line x1="45.35" y1="475.83" x2="45.35" y2="466.78" stroke="#444" stroke-width="0.7" />
<line x1="42.75" y1="475.83" x2="47.95" y2="475.83" stroke="#444" stroke-width="0.7" />
<line x1="42.75" y1="466.78" x2="47.95" y2="466.78" stroke="#444" stroke-width="0.7" />
<circle cx="45.00" cy="464.60" r="1.55" fill="#000"/>
<circle cx="40.00" cy="471.00" r="1.55" fill="#000"/>
<circle cx="43.00" cy="469.60" r="1.55" fill="#000"/>
<circle cx="47.00" cy="470.00" r="1.55" fill="#000"/>
<circle cx="51.00" cy="470.00" r="1.55" fill="#000"/>
<circle cx="41.60" cy="473.00" r="1.55" fill="#000"/>
<circle cx="48.00" cy="473.00" r="1.55" fill="#000"/>
<circle cx="43.00" cy="477.00" r="1.55" fill="#000"/>
<circle cx="46.40" cy="475.00" r="1.55" fill="#000"/>
<rect x="59.85" y="399.31" width="13.6" height="85.09" fill="#888888" stroke="#000" stroke-width="1"/>
<line x1="66.65" y1="419.22" x2="66.65" y2="378.55" stroke="#555" stroke-width="0.7" />
<line x1="64.05" y1="419.22" x2="69.25" y2="419.22" stroke="#555" stroke-width="0.7" />
<line x1="64.05" y1="378.55" x2="69.25" y2="378.55" stroke="#555" stroke-width="0.7" />
<circle cx="66.40" cy="369.00" r="1.55" fill="#000"/>
<circle cx="66.40" cy="384.00" r="1.55" fill="#000"/>
<circle cx="63.00" cy="390.00" r="1.55" fill="#000"/>
<circle cx="70.00" cy="389.00" r="1.55" fill="#000"/>
<circle cx="63.00" cy="408.60" r="1.55" fill="#000"/>
<circle cx="70.00" cy="407.40" r="1.55" fill="#000"/>
<circle cx="66.40" cy="414.60" r="1.55" fill="#000"/>
<circle cx="66.40" cy="432.00" r="1.55" fill="#000"/>
<rect x="95.55" y="467.86" width="13.6" height="16.54" fill="#fff" stroke="#000" stroke-width="1"/>
<line x1="102.35" y1="481.74" x2="102.35" y2="452.90" stroke="#444" stroke-width="0.7" />
<line x1="99.75" y1="481.74" x2="104.95" y2="481.74" stroke="#444" stroke-width="0.7" />
<line x1="99.75" y1="452.90" x2="104.95" y2="452.90" stroke="#444" stroke-width="0.7" />
<circle cx="102.00" cy="443.00" r="1.55" fill="#000"/>
<circle cx="97.00" cy="472.00" r="1.55" fill="#000"/>
<circle cx="102.00" cy="473.00" r="1.55" fill="#000"/>
<circle cx="107.00" cy="471.60" r="1.55" fill="#000"/>
<circle cx="102.00" cy="480.60" r="1.55" fill="#000"/>
<rect x="116.85" y="421.88" width="13.6" height="62.52" fill="#888888" stroke="#000" stroke-width="1"/>
<line x1="123.65" y1="431.90" x2="123.65" y2="410.89" stroke="#555" stroke-width="0.7" />
<line x1="121.05" y1="431.90" x2="126.25" y2="431.90" stroke="#555" stroke-width="0.7" />
<line x1="121.05" y1="410.89" x2="126.25" y2="410.89" stroke="#555" stroke-width="0.7" />
<circle cx="123.40" cy="409.40" r="1.55" fill="#000"/>
<circle cx="123.40" cy="418.60" r="1.55" fill="#000"/>
<circle cx="123.40" cy="424.00" r="1.55" fill="#000"/>
<circle cx="123.40" cy="434.60" r="1.55" fill="#000"/>
<rect x="152.25" y="470.88" width="13.6" height="13.52" fill="#fff" stroke="#000" stroke-width="1"/>
<line x1="159.05" y1="471.61" x2="159.05" y2="469.92" stroke="#444" stroke-width="0.7" />
<line x1="156.45" y1="471.61" x2="161.65" y2="471.61" stroke="#444" stroke-width="0.7" />
<line x1="156.45" y1="469.92" x2="161.65" y2="469.92" stroke="#444" stroke-width="0.7" />
<circle cx="153.89" cy="470.66" r="1.55" fill="#000"/>
<circle cx="157.04" cy="470.35" r="1.55" fill="#000"/>
<circle cx="160.20" cy="470.35" r="1.55" fill="#000"/>
<circle cx="163.35" cy="470.03" r="1.55" fill="#000"/>
<circle cx="164.93" cy="467.82" r="1.55" fill="#000"/>
<rect x="173.55" y="438.41" width="13.6" height="45.99" fill="#888888" stroke="#000" stroke-width="1"/>
<line x1="180.35" y1="443.97" x2="180.35" y2="433.10" stroke="#555" stroke-width="0.7" />
<line x1="177.75" y1="443.97" x2="182.95" y2="443.97" stroke="#555" stroke-width="0.7" />
<line x1="177.75" y1="433.10" x2="182.95" y2="433.10" stroke="#555" stroke-width="0.7" />
<circle cx="176.60" cy="433.12" r="1.55" fill="#000"/>
<circle cx="183.22" cy="432.18" r="1.55" fill="#000"/>
<circle cx="180.07" cy="435.65" r="1.55" fill="#000"/>
<circle cx="175.02" cy="439.43" r="1.55" fill="#000"/>
<circle cx="180.07" cy="439.75" r="1.55" fill="#000"/>
<circle cx="185.43" cy="439.43" r="1.55" fill="#000"/>
<circle cx="176.60" cy="444.16" r="1.55" fill="#000"/>
<circle cx="183.85" cy="444.16" r="1.55" fill="#000"/>
<rect x="208.95" y="452.54" width="13.6" height="31.86" fill="#fff" stroke="#000" stroke-width="1"/>
<line x1="215.75" y1="473.78" x2="215.75" y2="429.84" stroke="#444" stroke-width="0.7" />
<line x1="213.15" y1="473.78" x2="218.35" y2="473.78" stroke="#444" stroke-width="0.7" />
<line x1="213.15" y1="429.84" x2="218.35" y2="429.84" stroke="#444" stroke-width="0.7" />
<circle cx="215.40" cy="429.34" r="1.55" fill="#000"/>
<circle cx="215.40" cy="469.40" r="1.55" fill="#000"/>
<circle cx="215.40" cy="474.13" r="1.55" fill="#000"/>
<rect x="230.25" y="436.12" width="13.6" height="48.28" fill="#888888" stroke="#000" stroke-width="1"/>
<line x1="237.05" y1="459.17" x2="237.05" y2="413.19" stroke="#555" stroke-width="0.7" />
<line x1="234.45" y1="459.17" x2="239.65" y2="459.17" stroke="#555" stroke-width="0.7" />
<line x1="234.45" y1="413.19" x2="239.65" y2="413.19" stroke="#555" stroke-width="0.7" />
<circle cx="237.48" cy="414.20" r="1.55" fill="#000"/>
<circle cx="237.48" cy="420.50" r="1.55" fill="#000"/>
<circle cx="237.48" cy="448.90" r="1.55" fill="#000"/>
<circle cx="237.48" cy="461.51" r="1.55" fill="#000"/>
<rect x="265.95" y="473.05" width="13.6" height="11.35" fill="#fff" stroke="#000" stroke-width="1"/>
<line x1="272.75" y1="473.78" x2="272.75" y2="472.09" stroke="#444" stroke-width="0.7" />
<line x1="270.15" y1="473.78" x2="275.35" y2="473.78" stroke="#444" stroke-width="0.7" />
<line x1="270.15" y1="472.09" x2="275.35" y2="472.09" stroke="#444" stroke-width="0.7" />
<circle cx="267.45" cy="473.19" r="1.55" fill="#000"/>
<circle cx="272.18" cy="471.92" r="1.55" fill="#000"/>
<circle cx="276.91" cy="472.56" r="1.55" fill="#000"/>
<rect x="287.25" y="454.22" width="13.6" height="30.18" fill="#888888" stroke="#000" stroke-width="1"/>
<line x1="294.05" y1="459.17" x2="294.05" y2="447.22" stroke="#555" stroke-width="0.7" />
<line x1="291.45" y1="459.17" x2="296.65" y2="459.17" stroke="#555" stroke-width="0.7" />
<line x1="291.45" y1="447.22" x2="296.65" y2="447.22" stroke="#555" stroke-width="0.7" />
<circle cx="294.26" cy="447.95" r="1.55" fill="#000"/>
<circle cx="290.48" cy="457.41" r="1.55" fill="#000"/>
<circle cx="298.05" cy="456.78" r="1.55" fill="#000"/>
<line x1="31.00" y1="363.20" x2="31.00" y2="484.90" stroke="#000" stroke-width="1.1" />
<line x1="30.50" y1="484.40" x2="308.00" y2="484.40" stroke="#000" stroke-width="1.1" />
<line x1="27.70" y1="484.40" x2="31.00" y2="484.40" stroke="#000" stroke-width="1.1" />
<text x="27.10" y="487.70" font-size="9.7" text-anchor="end" fill="#000"  stroke="#000" stroke-width="0.15">0</text>
<line x1="27.70" y1="454.22" x2="31.00" y2="454.22" stroke="#000" stroke-width="1.1" />
<text x="27.10" y="457.52" font-size="9.7" text-anchor="end" fill="#000"  stroke="#000" stroke-width="0.15">25</text>
<line x1="27.70" y1="424.05" x2="31.00" y2="424.05" stroke="#000" stroke-width="1.1" />
<text x="27.10" y="427.35" font-size="9.7" text-anchor="end" fill="#000"  stroke="#000" stroke-width="0.15">50</text>
<line x1="27.70" y1="393.88" x2="31.00" y2="393.88" stroke="#000" stroke-width="1.1" />
<text x="27.10" y="397.18" font-size="9.7" text-anchor="end" fill="#000"  stroke="#000" stroke-width="0.15">75</text>
<line x1="27.70" y1="363.70" x2="31.00" y2="363.70" stroke="#000" stroke-width="1.1" />
<text x="27.10" y="367.00" font-size="9.7" text-anchor="end" fill="#000"  stroke="#000" stroke-width="0.15">100</text>
<line x1="56.00" y1="484.40" x2="56.00" y2="487.60" stroke="#000" stroke-width="1.1" />
<line x1="113.00" y1="484.40" x2="113.00" y2="487.60" stroke="#000" stroke-width="1.1" />
<line x1="169.70" y1="484.40" x2="169.70" y2="487.60" stroke="#000" stroke-width="1.1" />
<line x1="226.40" y1="484.40" x2="226.40" y2="487.60" stroke="#000" stroke-width="1.1" />
<line x1="283.40" y1="484.40" x2="283.40" y2="487.60" stroke="#000" stroke-width="1.1" />
<text transform="translate(9.40,427.80) rotate(-90)" font-size="10.1" font-weight="bold" text-anchor="middle" stroke="#000" stroke-width="0.3">% Positive</text>
<text x="57.00" y="498.30" font-size="10" font-weight="bold" text-anchor="middle" fill="#000"  stroke="#000" stroke-width="0.3">ICAM-1</text>
<text x="114.20" y="498.30" font-size="10" font-weight="bold" text-anchor="middle" fill="#000"  stroke="#000" stroke-width="0.3">MIC-A/B</text>
<text x="169.40" y="498.30" font-size="10" font-weight="bold" text-anchor="middle" fill="#000"  stroke="#000" stroke-width="0.3">CD112</text>
<text x="226.40" y="498.30" font-size="10" font-weight="bold" text-anchor="middle" fill="#000"  stroke="#000" stroke-width="0.3">CD155</text>
<text x="284.50" y="498.30" font-size="10" font-weight="bold" text-anchor="middle" fill="#000"  stroke="#000" stroke-width="0.3">HLA-ABC</text>
<line x1="39.10" y1="503.50" x2="244.90" y2="503.50" stroke="#222" stroke-width="1" />
<line x1="260.60" y1="503.50" x2="308.80" y2="503.50" stroke="#222" stroke-width="1" />
<text x="144.70" y="514.50" font-size="10" font-weight="bold" text-anchor="middle" fill="#000"  stroke="#000" stroke-width="0.3">NK-activating ligands</text>
<text x="285.20" y="514.50" font-size="10" font-weight="bold" text-anchor="middle" fill="#000"  stroke="#000" stroke-width="0.3">NK inhib</text>
<text x="286.00" y="526.50" font-size="10" font-weight="bold" text-anchor="middle" fill="#000"  stroke="#000" stroke-width="0.3">ligand</text>
<text x="33.70" y="363.70" font-size="9.8" text-anchor="start" fill="#000" stroke="#000" stroke-width="0.12"><tspan font-style="italic">P</tspan> &lt; 0.0001</text>
<line x1="36.30" y1="366.90" x2="71.40" y2="366.90" stroke="#8c8c8c" stroke-width="1.25" />
<text x="96.40" y="399.80" font-size="9.8" text-anchor="start" fill="#000" stroke="#000" stroke-width="0.12"><tspan font-style="italic">P</tspan> =0.016</text>
<line x1="96.40" y1="404.10" x2="132.50" y2="404.10" stroke="#8c8c8c" stroke-width="1.25" />
<text x="145.30" y="420.00" font-size="9.8" text-anchor="start" fill="#000" stroke="#000" stroke-width="0.12"><tspan font-style="italic">P</tspan> &lt; 0.0001</text>
<line x1="153.40" y1="424.00" x2="188.70" y2="424.00" stroke="#8c8c8c" stroke-width="1.25" />
<text x="210.80" y="404.60" font-size="9.8" text-anchor="start" fill="#000" stroke="#000" stroke-width="0.12"><tspan font-style="italic">P</tspan> =0.03</text>
<line x1="211.60" y1="409.50" x2="246.30" y2="409.50" stroke="#8c8c8c" stroke-width="1.25" />
<text x="266.20" y="439.60" font-size="9.8" text-anchor="start" fill="#000" stroke="#000" stroke-width="0.12"><tspan font-style="italic">P</tspan> =0.02</text>
<line x1="265.30" y1="444.50" x2="301.20" y2="444.50" stroke="#8c8c8c" stroke-width="1.25" />
<rect x="379.50" y="472.91" width="11.5" height="11.39" fill="#fff" stroke="#000" stroke-width="1"/>
<line x1="385.25" y1="474.87" x2="385.25" y2="471.07" stroke="#444" stroke-width="0.7" />
<line x1="382.65" y1="474.87" x2="387.85" y2="474.87" stroke="#444" stroke-width="0.7" />
<line x1="382.65" y1="471.07" x2="387.85" y2="471.07" stroke="#444" stroke-width="0.7" />
<circle cx="380.40" cy="469.80" r="1.55" fill="#000"/>
<circle cx="382.40" cy="471.00" r="1.55" fill="#000"/>
<circle cx="384.40" cy="470.20" r="1.55" fill="#000"/>
<circle cx="386.40" cy="471.40" r="1.55" fill="#000"/>
<circle cx="388.40" cy="470.60" r="1.55" fill="#000"/>
<circle cx="390.00" cy="471.80" r="1.55" fill="#000"/>
<circle cx="381.40" cy="472.20" r="1.55" fill="#000"/>
<circle cx="385.40" cy="472.60" r="1.55" fill="#000"/>
<circle cx="385.00" cy="477.00" r="1.55" fill="#000"/>
<rect x="398.80" y="386.30" width="11.5" height="98.00" fill="#888888" stroke="#000" stroke-width="1"/>
<line x1="404.55" y1="396.35" x2="404.55" y2="375.89" stroke="#555" stroke-width="0.7" />
<line x1="401.95" y1="396.35" x2="407.15" y2="396.35" stroke="#555" stroke-width="0.7" />
<line x1="401.95" y1="375.89" x2="407.15" y2="375.89" stroke="#555" stroke-width="0.7" />
<circle cx="400.00" cy="379.40" r="1.55" fill="#000"/>
<circle cx="404.00" cy="377.40" r="1.55" fill="#000"/>
<circle cx="408.60" cy="376.60" r="1.55" fill="#000"/>
<circle cx="400.40" cy="382.20" r="1.55" fill="#000"/>
<circle cx="404.60" cy="380.60" r="1.55" fill="#000"/>
<circle cx="409.00" cy="381.00" r="1.55" fill="#000"/>
<circle cx="404.60" cy="388.60" r="1.55" fill="#000"/>
<circle cx="404.60" cy="392.20" r="1.55" fill="#000"/>
<circle cx="406.00" cy="401.40" r="1.55" fill="#000"/>
<circle cx="402.40" cy="404.00" r="1.55" fill="#000"/>
<rect x="429.80" y="468.87" width="11.5" height="15.44" fill="#fff" stroke="#000" stroke-width="1"/>
<line x1="435.55" y1="477.81" x2="435.55" y2="459.92" stroke="#444" stroke-width="0.7" />
<line x1="432.95" y1="477.81" x2="438.15" y2="477.81" stroke="#444" stroke-width="0.7" />
<line x1="432.95" y1="459.92" x2="438.15" y2="459.92" stroke="#444" stroke-width="0.7" />
<circle cx="434.00" cy="456.00" r="1.55" fill="#000"/>
<circle cx="437.00" cy="456.40" r="1.55" fill="#000"/>
<circle cx="432.00" cy="471.00" r="1.55" fill="#000"/>
<circle cx="435.60" cy="471.40" r="1.55" fill="#000"/>
<circle cx="439.00" cy="471.00" r="1.55" fill="#000"/>
<circle cx="441.00" cy="473.00" r="1.55" fill="#000"/>
<circle cx="435.60" cy="477.00" r="1.55" fill="#000"/>
<rect x="449.10" y="372.21" width="11.5" height="112.09" fill="#888888" stroke="#000" stroke-width="1"/>
<line x1="454.85" y1="375.27" x2="454.85" y2="368.78" stroke="#555" stroke-width="0.7" />
<line x1="452.25" y1="375.27" x2="457.45" y2="375.27" stroke="#555" stroke-width="0.7" />
<line x1="452.25" y1="368.78" x2="457.45" y2="368.78" stroke="#555" stroke-width="0.7" />
<circle cx="452.00" cy="366.60" r="1.55" fill="#000"/>
<circle cx="457.00" cy="366.60" r="1.55" fill="#000"/>
<circle cx="450.40" cy="372.00" r="1.55" fill="#000"/>
<circle cx="453.60" cy="373.40" r="1.55" fill="#000"/>
<circle cx="457.00" cy="373.00" r="1.55" fill="#000"/>
<circle cx="460.00" cy="372.60" r="1.55" fill="#000"/>
<circle cx="459.00" cy="375.40" r="1.55" fill="#000"/>
<circle cx="450.00" cy="378.60" r="1.55" fill="#000"/>
<rect x="480.00" y="467.15" width="11.5" height="17.15" fill="#fff" stroke="#000" stroke-width="1"/>
<line x1="485.75" y1="480.26" x2="485.75" y2="452.94" stroke="#444" stroke-width="0.7" />
<line x1="483.15" y1="480.26" x2="488.35" y2="480.26" stroke="#444" stroke-width="0.7" />
<line x1="483.15" y1="452.94" x2="488.35" y2="452.94" stroke="#444" stroke-width="0.7" />
<circle cx="485.85" cy="434.62" r="1.55" fill="#000"/>
<circle cx="485.85" cy="465.38" r="1.55" fill="#000"/>
<circle cx="482.45" cy="471.04" r="1.55" fill="#000"/>
<circle cx="485.85" cy="472.92" r="1.55" fill="#000"/>
<circle cx="489.43" cy="471.60" r="1.55" fill="#000"/>
<circle cx="484.34" cy="469.72" r="1.55" fill="#000"/>
<circle cx="488.11" cy="473.87" r="1.55" fill="#000"/>
<circle cx="485.85" cy="476.70" r="1.55" fill="#000"/>
<circle cx="485.85" cy="479.53" r="1.55" fill="#000"/>
<rect x="499.30" y="420.72" width="11.5" height="63.58" fill="#888888" stroke="#000" stroke-width="1"/>
<line x1="505.05" y1="452.94" x2="505.05" y2="388.75" stroke="#555" stroke-width="0.7" />
<line x1="502.45" y1="452.94" x2="507.65" y2="452.94" stroke="#555" stroke-width="0.7" />
<line x1="502.45" y1="388.75" x2="507.65" y2="388.75" stroke="#555" stroke-width="0.7" />
<circle cx="502.83" cy="373.30" r="1.55" fill="#000"/>
<circle cx="506.98" cy="370.09" r="1.55" fill="#000"/>
<circle cx="502.26" cy="423.30" r="1.55" fill="#000"/>
<circle cx="507.55" cy="425.19" r="1.55" fill="#000"/>
<circle cx="502.83" cy="438.02" r="1.55" fill="#000"/>
<circle cx="507.55" cy="436.51" r="1.55" fill="#000"/>
<circle cx="507.55" cy="441.79" r="1.55" fill="#000"/>
<circle cx="505.09" cy="452.74" r="1.55" fill="#000"/>
<circle cx="505.09" cy="454.62" r="1.55" fill="#000"/>
<line x1="372.30" y1="361.30" x2="372.30" y2="484.80" stroke="#000" stroke-width="1.1" />
<line x1="371.80" y1="484.30" x2="517.40" y2="484.30" stroke="#000" stroke-width="1.1" />
<line x1="369.10" y1="484.30" x2="372.30" y2="484.30" stroke="#000" stroke-width="1.1" />
<text x="368.30" y="487.60" font-size="9.5" text-anchor="end" fill="#000"  stroke="#000" stroke-width="0.15">0</text>
<line x1="369.10" y1="453.68" x2="372.30" y2="453.68" stroke="#000" stroke-width="1.1" />
<text x="368.30" y="456.98" font-size="9.5" text-anchor="end" fill="#000"  stroke="#000" stroke-width="0.15">25</text>
<line x1="369.10" y1="423.05" x2="372.30" y2="423.05" stroke="#000" stroke-width="1.1" />
<text x="368.30" y="426.35" font-size="9.5" text-anchor="end" fill="#000"  stroke="#000" stroke-width="0.15">50</text>
<line x1="369.10" y1="392.43" x2="372.30" y2="392.43" stroke="#000" stroke-width="1.1" />
<text x="368.30" y="395.73" font-size="9.5" text-anchor="end" fill="#000"  stroke="#000" stroke-width="0.15">75</text>
<line x1="369.10" y1="361.80" x2="372.30" y2="361.80" stroke="#000" stroke-width="1.1" />
<text x="368.30" y="365.10" font-size="9.5" text-anchor="end" fill="#000"  stroke="#000" stroke-width="0.15">100</text>
<line x1="394.90" y1="484.30" x2="394.90" y2="487.50" stroke="#000" stroke-width="1.1" />
<line x1="445.20" y1="484.30" x2="445.20" y2="487.50" stroke="#000" stroke-width="1.1" />
<line x1="495.40" y1="484.30" x2="495.40" y2="487.50" stroke="#000" stroke-width="1.1" />
<text transform="translate(352.80,426.80) rotate(-90)" font-size="10.2" font-weight="bold" text-anchor="middle" stroke="#000" stroke-width="0.3">% Positive</text>
<text x="394.80" y="498.10" font-size="10" font-weight="bold" text-anchor="middle" fill="#000"  stroke="#000" stroke-width="0.3">DR5</text>
<text x="446.50" y="498.10" font-size="10" font-weight="bold" text-anchor="middle" fill="#000"  stroke="#000" stroke-width="0.3">IFNGR1</text>
<text x="496.00" y="498.10" font-size="10" font-weight="bold" text-anchor="middle" fill="#000"  stroke="#000" stroke-width="0.3">IFNAR1</text>
<line x1="376.80" y1="503.50" x2="414.00" y2="503.50" stroke="#222" stroke-width="1" />
<line x1="437.00" y1="503.50" x2="511.60" y2="503.50" stroke="#222" stroke-width="1" />
<text x="398.00" y="514.00" font-size="10" font-weight="bold" text-anchor="middle" fill="#000"  stroke="#000" stroke-width="0.3">TRAIL</text>
<text x="398.50" y="526.00" font-size="10" font-weight="bold" text-anchor="middle" fill="#000"  stroke="#000" stroke-width="0.3">receptor</text>
<text x="472.00" y="514.00" font-size="10" font-weight="bold" text-anchor="middle" fill="#000"  stroke="#000" stroke-width="0.3">Type I/II IFN</text>
<text x="471.80" y="526.00" font-size="10" font-weight="bold" text-anchor="middle" fill="#000"  stroke="#000" stroke-width="0.3">receptors</text>
<text x="376.00" y="368.80" font-size="9.2" text-anchor="start" fill="#000" stroke="#000" stroke-width="0.12"><tspan font-style="italic">P</tspan> &lt; 0.0001</text>
<line x1="380.60" y1="372.30" x2="411.80" y2="372.30" stroke="#8c8c8c" stroke-width="1.25" />
<text x="427.10" y="360.70" font-size="9.2" text-anchor="start" fill="#000" stroke="#000" stroke-width="0.12"><tspan font-style="italic">P</tspan> &lt; 0.0001</text>
<line x1="433.00" y1="364.20" x2="466.70" y2="364.20" stroke="#8c8c8c" stroke-width="1.25" />
<text x="475.60" y="382.50" font-size="9.2" text-anchor="start" fill="#000" stroke="#000" stroke-width="0.12"><tspan font-style="italic">P</tspan> =0.0008</text>
<line x1="484.50" y1="384.40" x2="518.10" y2="384.40" stroke="#8c8c8c" stroke-width="1.25" />
<text x="0.80" y="561.00" font-size="14" font-weight="bold" text-anchor="start" fill="#000" stroke="#000" stroke-width="0.5">C</text>
<line x1="35.40" y1="570.10" x2="35.40" y2="699.30" stroke="#000" stroke-width="1.3" />
<line x1="34.90" y1="698.80" x2="107.70" y2="698.80" stroke="#000" stroke-width="1.3" />
<line x1="31.10" y1="698.80" x2="35.40" y2="698.80" stroke="#000" stroke-width="1.2" />
<text x="30.00" y="702.20" font-size="9.8" text-anchor="end" fill="#000"  stroke="#000" stroke-width="0.15">0</text>
<line x1="31.10" y1="666.75" x2="35.40" y2="666.75" stroke="#000" stroke-width="1.2" />
<text x="30.00" y="670.15" font-size="9.8" text-anchor="end" fill="#000"  stroke="#000" stroke-width="0.15">20</text>
<line x1="31.10" y1="634.70" x2="35.40" y2="634.70" stroke="#000" stroke-width="1.2" />
<text x="30.00" y="638.10" font-size="9.8" text-anchor="end" fill="#000"  stroke="#000" stroke-width="0.15">40</text>
<line x1="31.10" y1="602.65" x2="35.40" y2="602.65" stroke="#000" stroke-width="1.2" />
<text x="30.00" y="606.05" font-size="9.8" text-anchor="end" fill="#000"  stroke="#000" stroke-width="0.15">60</text>
<line x1="31.10" y1="570.60" x2="35.40" y2="570.60" stroke="#000" stroke-width="1.2" />
<text x="30.00" y="574.00" font-size="9.8" text-anchor="end" fill="#000"  stroke="#000" stroke-width="0.15">80</text>
<line x1="56.50" y1="698.80" x2="56.50" y2="702.40" stroke="#000" stroke-width="1.1" />
<line x1="87.50" y1="698.80" x2="87.50" y2="702.40" stroke="#000" stroke-width="1.1" />
<text x="76.50" y="566.30" font-size="12" font-weight="bold" text-anchor="middle" fill="#000"  stroke="#000" stroke-width="0.3">ICAM-1</text>
<text transform="translate(15.10,628.60) rotate(-90)" font-size="10.6" font-weight="bold" text-anchor="middle" stroke="#000" stroke-width="0.3">% ICAM-1+</text>
<circle cx="43.60" cy="672.90" r="1.65" fill="#000"/>
<circle cx="59.20" cy="669.40" r="1.65" fill="#000"/>
<circle cx="47.90" cy="678.30" r="1.65" fill="#000"/>
<circle cx="62.50" cy="676.90" r="1.65" fill="#000"/>
<circle cx="52.50" cy="689.00" r="1.65" fill="#000"/>
<circle cx="59.20" cy="685.00" r="1.65" fill="#000"/>
<circle cx="84.00" cy="601.50" r="1.65" fill="#000"/>
<circle cx="90.70" cy="600.70" r="1.65" fill="#000"/>
<circle cx="87.00" cy="640.00" r="1.65" fill="#000"/>
<circle cx="87.00" cy="660.80" r="1.65" fill="#000"/>
<circle cx="90.70" cy="666.70" r="1.65" fill="#000"/>
<circle cx="84.00" cy="668.90" r="1.65" fill="#000"/>
<circle cx="90.70" cy="681.00" r="1.65" fill="#000"/>
<circle cx="84.00" cy="684.20" r="1.65" fill="#000"/>
<line x1="45.80" y1="679.60" x2="66.00" y2="679.60" stroke="#000" stroke-width="1.1" />
<line x1="77.30" y1="662.70" x2="97.50" y2="662.70" stroke="#000" stroke-width="1.1" />
<text x="51.70" y="583.50" font-size="10.1" text-anchor="start" fill="#000" stroke="#000" stroke-width="0.12"><tspan font-style="italic">P</tspan> =0.06</text>
<line x1="51.20" y1="588.90" x2="88.00" y2="588.90" stroke="#8c8c8c" stroke-width="1.25" />
<text x="52.10" y="711.80" font-size="10.2" text-anchor="middle" fill="#000"  stroke="#000" stroke-width="0.15">-Dox</text>
<text x="83.50" y="711.80" font-size="10.2" text-anchor="middle" fill="#000"  stroke="#000" stroke-width="0.15">+Dox</text>
<line x1="137.70" y1="569.30" x2="137.70" y2="699.00" stroke="#000" stroke-width="1.3" />
<line x1="137.20" y1="698.50" x2="211.70" y2="698.50" stroke="#000" stroke-width="1.3" />
<line x1="133.40" y1="698.50" x2="137.70" y2="698.50" stroke="#000" stroke-width="1.2" />
<text x="132.30" y="701.90" font-size="9.8" text-anchor="end" fill="#000"  stroke="#000" stroke-width="0.15">0</text>
<line x1="133.40" y1="655.60" x2="137.70" y2="655.60" stroke="#000" stroke-width="1.2" />
<text x="132.30" y="659.00" font-size="9.8" text-anchor="end" fill="#000"  stroke="#000" stroke-width="0.15">20</text>
<line x1="133.40" y1="612.70" x2="137.70" y2="612.70" stroke="#000" stroke-width="1.2" />
<text x="132.30" y="616.10" font-size="9.8" text-anchor="end" fill="#000"  stroke="#000" stroke-width="0.15">40</text>
<line x1="133.40" y1="569.80" x2="137.70" y2="569.80" stroke="#000" stroke-width="1.2" />
<text x="132.30" y="573.20" font-size="9.8" text-anchor="end" fill="#000"  stroke="#000" stroke-width="0.15">60</text>
<line x1="158.70" y1="698.50" x2="158.70" y2="702.10" stroke="#000" stroke-width="1.1" />
<line x1="191.00" y1="698.50" x2="191.00" y2="702.10" stroke="#000" stroke-width="1.1" />
<text x="178.50" y="566.30" font-size="12" font-weight="bold" text-anchor="middle" fill="#000"  stroke="#000" stroke-width="0.3">MIC-A/B</text>
<text transform="translate(119.80,633.00) rotate(-90)" font-size="9.9" font-weight="bold" text-anchor="middle" stroke="#000" stroke-width="0.3">% MIC-A/B</text>
<circle cx="158.70" cy="619.00" r="1.65" fill="#000"/>
<circle cx="158.70" cy="657.30" r="1.65" fill="#000"/>
<circle cx="158.70" cy="669.70" r="1.65" fill="#000"/>
<circle cx="152.50" cy="682.30" r="1.65" fill="#000"/>
<circle cx="159.20" cy="680.40" r="1.65" fill="#000"/>
<circle cx="165.40" cy="682.30" r="1.65" fill="#000"/>
<circle cx="188.00" cy="581.90" r="1.65" fill="#000"/>
<circle cx="194.20" cy="580.80" r="1.65" fill="#000"/>
<circle cx="191.00" cy="606.90" r="1.65" fill="#000"/>
<circle cx="191.00" cy="627.90" r="1.65" fill="#000"/>
<circle cx="191.00" cy="636.00" r="1.65" fill="#000"/>
<circle cx="191.00" cy="652.70" r="1.65" fill="#000"/>
<circle cx="191.00" cy="662.90" r="1.65" fill="#000"/>
<circle cx="191.00" cy="668.90" r="1.65" fill="#000"/>
<line x1="148.50" y1="674.80" x2="169.50" y2="674.80" stroke="#000" stroke-width="1.1" />
<line x1="180.80" y1="632.00" x2="201.80" y2="632.00" stroke="#000" stroke-width="1.1" />
<text x="145.00" y="595.60" font-size="10.1" text-anchor="start" fill="#000" stroke="#000" stroke-width="0.12"><tspan font-style="italic">P</tspan> =0.0412</text>
<line x1="157.00" y1="598.30" x2="195.60" y2="598.30" stroke="#8c8c8c" stroke-width="1.25" />
<text x="156.80" y="711.80" font-size="10.2" text-anchor="middle" fill="#000"  stroke="#000" stroke-width="0.15">-Dox</text>
<text x="187.90" y="711.80" font-size="10.2" text-anchor="middle" fill="#000"  stroke="#000" stroke-width="0.15">+Dox</text>
<line x1="242.30" y1="568.70" x2="242.30" y2="699.00" stroke="#000" stroke-width="1.3" />
<line x1="241.80" y1="698.50" x2="316.30" y2="698.50" stroke="#000" stroke-width="1.3" />
<line x1="238.00" y1="698.50" x2="242.30" y2="698.50" stroke="#000" stroke-width="1.2" />
<text x="236.90" y="701.90" font-size="9.8" text-anchor="end" fill="#000"  stroke="#000" stroke-width="0.15">0</text>
<line x1="238.00" y1="666.17" x2="242.30" y2="666.17" stroke="#000" stroke-width="1.2" />
<text x="236.90" y="669.57" font-size="9.8" text-anchor="end" fill="#000"  stroke="#000" stroke-width="0.15">10</text>
<line x1="238.00" y1="633.85" x2="242.30" y2="633.85" stroke="#000" stroke-width="1.2" />
<text x="236.90" y="637.25" font-size="9.8" text-anchor="end" fill="#000"  stroke="#000" stroke-width="0.15">20</text>
<line x1="238.00" y1="601.53" x2="242.30" y2="601.53" stroke="#000" stroke-width="1.2" />
<text x="236.90" y="604.93" font-size="9.8" text-anchor="end" fill="#000"  stroke="#000" stroke-width="0.15">30</text>
<line x1="238.00" y1="569.20" x2="242.30" y2="569.20" stroke="#000" stroke-width="1.2" />
<text x="236.90" y="572.60" font-size="9.8" text-anchor="end" fill="#000"  stroke="#000" stroke-width="0.15">40</text>
<line x1="263.80" y1="698.50" x2="263.80" y2="702.10" stroke="#000" stroke-width="1.1" />
<line x1="295.60" y1="698.50" x2="295.60" y2="702.10" stroke="#000" stroke-width="1.1" />
<text x="280.40" y="566.30" font-size="12" font-weight="bold" text-anchor="middle" fill="#000"  stroke="#000" stroke-width="0.3">CD112</text>
<text transform="translate(225.60,636.50) rotate(-90)" font-size="10.2" font-weight="bold" text-anchor="middle" stroke="#000" stroke-width="0.3">% CD112</text>
<circle cx="263.80" cy="598.90" r="1.65" fill="#000"/>
<circle cx="263.80" cy="636.00" r="1.65" fill="#000"/>
<circle cx="263.80" cy="644.10" r="1.65" fill="#000"/>
<circle cx="263.80" cy="652.70" r="1.65" fill="#000"/>
<circle cx="260.60" cy="678.80" r="1.65" fill="#000"/>
<circle cx="267.30" cy="677.70" r="1.65" fill="#000"/>
<circle cx="296.10" cy="581.30" r="1.65" fill="#000"/>
<circle cx="296.10" cy="585.40" r="1.65" fill="#000"/>
<circle cx="289.70" cy="588.10" r="1.65" fill="#000"/>
<circle cx="302.30" cy="588.10" r="1.65" fill="#000"/>
<circle cx="296.10" cy="594.80" r="1.65" fill="#000"/>
<circle cx="296.10" cy="636.50" r="1.65" fill="#000"/>
<circle cx="296.10" cy="647.90" r="1.65" fill="#000"/>
<circle cx="296.10" cy="658.60" r="1.65" fill="#000"/>
<line x1="253.00" y1="648.10" x2="274.60" y2="648.10" stroke="#000" stroke-width="1.1" />
<line x1="285.40" y1="591.60" x2="306.90" y2="591.60" stroke="#000" stroke-width="1.1" />
<text x="257.90" y="614.50" font-size="10.1" text-anchor="start" fill="#000" stroke="#000" stroke-width="0.12"><tspan font-style="italic">P</tspan> =0.043</text>
<line x1="261.90" y1="617.70" x2="298.30" y2="617.70" stroke="#8c8c8c" stroke-width="1.25" />
<text x="261.20" y="711.80" font-size="10.2" text-anchor="middle" fill="#000"  stroke="#000" stroke-width="0.15">-Dox</text>
<text x="292.20" y="711.80" font-size="10.2" text-anchor="middle" fill="#000"  stroke="#000" stroke-width="0.15">+Dox</text>
<line x1="342.30" y1="569.30" x2="342.30" y2="699.00" stroke="#000" stroke-width="1.3" />
<line x1="341.80" y1="698.50" x2="414.40" y2="698.50" stroke="#000" stroke-width="1.3" />
<line x1="338.00" y1="698.50" x2="342.30" y2="698.50" stroke="#000" stroke-width="1.2" />
<text x="336.90" y="701.90" font-size="9.8" text-anchor="end" fill="#000"  stroke="#000" stroke-width="0.15">0</text>
<line x1="338.00" y1="655.60" x2="342.30" y2="655.60" stroke="#000" stroke-width="1.2" />
<text x="336.90" y="659.00" font-size="9.8" text-anchor="end" fill="#000"  stroke="#000" stroke-width="0.15">10</text>
<line x1="338.00" y1="612.70" x2="342.30" y2="612.70" stroke="#000" stroke-width="1.2" />
<text x="336.90" y="616.10" font-size="9.8" text-anchor="end" fill="#000"  stroke="#000" stroke-width="0.15">20</text>
<line x1="338.00" y1="569.80" x2="342.30" y2="569.80" stroke="#000" stroke-width="1.2" />
<text x="336.90" y="573.20" font-size="9.8" text-anchor="end" fill="#000"  stroke="#000" stroke-width="0.15">30</text>
<line x1="362.70" y1="698.50" x2="362.70" y2="702.10" stroke="#000" stroke-width="1.1" />
<line x1="393.70" y1="698.50" x2="393.70" y2="702.10" stroke="#000" stroke-width="1.1" />
<text x="375.30" y="566.30" font-size="12" font-weight="bold" text-anchor="middle" fill="#000"  stroke="#000" stroke-width="0.3">HLA-ABC</text>
<text transform="translate(321.90,633.70) rotate(-90)" font-size="10.1" font-weight="bold" text-anchor="middle" stroke="#000" stroke-width="0.3">% HLA-ABC</text>
<circle cx="362.70" cy="645.20" r="1.65" fill="#000"/>
<circle cx="362.70" cy="654.00" r="1.65" fill="#000"/>
<circle cx="362.70" cy="664.30" r="1.65" fill="#000"/>
<circle cx="362.70" cy="675.00" r="1.65" fill="#000"/>
<circle cx="359.80" cy="695.80" r="1.65" fill="#000"/>
<circle cx="366.00" cy="695.00" r="1.65" fill="#000"/>
<circle cx="393.70" cy="580.80" r="1.65" fill="#000"/>
<circle cx="393.70" cy="597.50" r="1.65" fill="#000"/>
<circle cx="390.70" cy="607.50" r="1.65" fill="#000"/>
<circle cx="396.90" cy="605.60" r="1.65" fill="#000"/>
<circle cx="393.70" cy="616.90" r="1.65" fill="#000"/>
<circle cx="393.70" cy="625.00" r="1.65" fill="#000"/>
<circle cx="393.70" cy="667.00" r="1.65" fill="#000"/>
<circle cx="393.70" cy="673.70" r="1.65" fill="#000"/>
<line x1="352.50" y1="669.70" x2="373.20" y2="669.70" stroke="#000" stroke-width="1.1" />
<line x1="383.50" y1="612.90" x2="404.20" y2="612.90" stroke="#000" stroke-width="1.1" />
<text x="347.10" y="632.50" font-size="10.1" text-anchor="start" fill="#000" stroke="#000" stroke-width="0.12"><tspan font-style="italic">P</tspan> =0.007</text>
<line x1="356.50" y1="635.70" x2="394.20" y2="635.70" stroke="#8c8c8c" stroke-width="1.25" />
<text x="360.80" y="711.80" font-size="10.2" text-anchor="middle" fill="#000"  stroke="#000" stroke-width="0.15">-Dox</text>
<text x="391.50" y="711.80" font-size="10.2" text-anchor="middle" fill="#000"  stroke="#000" stroke-width="0.15">+Dox</text>
<line x1="446.00" y1="569.70" x2="446.00" y2="699.30" stroke="#000" stroke-width="1.3" />
<line x1="445.50" y1="698.80" x2="520.00" y2="698.80" stroke="#000" stroke-width="1.3" />
<line x1="441.50" y1="698.80" x2="446.00" y2="698.80" stroke="#000" stroke-width="1.2" />
<text x="440.10" y="702.41" font-size="10.4" text-anchor="end" fill="#000"  stroke="#000" stroke-width="0.15">0</text>
<line x1="441.50" y1="673.08" x2="446.00" y2="673.08" stroke="#000" stroke-width="1.2" />
<text x="440.10" y="676.69" font-size="10.4" text-anchor="end" fill="#000"  stroke="#000" stroke-width="0.15">10</text>
<line x1="441.50" y1="647.36" x2="446.00" y2="647.36" stroke="#000" stroke-width="1.2" />
<text x="440.10" y="650.97" font-size="10.4" text-anchor="end" fill="#000"  stroke="#000" stroke-width="0.15">20</text>
<line x1="441.50" y1="621.64" x2="446.00" y2="621.64" stroke="#000" stroke-width="1.2" />
<text x="440.10" y="625.25" font-size="10.4" text-anchor="end" fill="#000"  stroke="#000" stroke-width="0.15">30</text>
<line x1="441.50" y1="595.92" x2="446.00" y2="595.92" stroke="#000" stroke-width="1.2" />
<text x="440.10" y="599.53" font-size="10.4" text-anchor="end" fill="#000"  stroke="#000" stroke-width="0.15">40</text>
<line x1="441.50" y1="570.20" x2="446.00" y2="570.20" stroke="#000" stroke-width="1.2" />
<text x="440.10" y="573.81" font-size="10.4" text-anchor="end" fill="#000"  stroke="#000" stroke-width="0.15">50</text>
<line x1="467.30" y1="698.80" x2="467.30" y2="702.40" stroke="#000" stroke-width="1.1" />
<line x1="499.30" y1="698.80" x2="499.30" y2="702.40" stroke="#000" stroke-width="1.1" />
<text x="480.80" y="566.30" font-size="12" font-weight="bold" text-anchor="middle" fill="#000"  stroke="#000" stroke-width="0.3">IFNGR1</text>
<text transform="translate(425.00,627.60) rotate(-90)" font-size="9.9" font-weight="bold" text-anchor="middle" stroke="#000" stroke-width="0.3">% IFNGR1</text>
<circle cx="467.30" cy="621.50" r="1.65" fill="#000"/>
<circle cx="467.30" cy="645.30" r="1.65" fill="#000"/>
<circle cx="467.30" cy="655.50" r="1.65" fill="#000"/>
<circle cx="467.30" cy="666.90" r="1.65" fill="#000"/>
<circle cx="464.20" cy="692.30" r="1.65" fill="#000"/>
<circle cx="470.60" cy="692.30" r="1.65" fill="#000"/>
<circle cx="499.30" cy="578.30" r="1.65" fill="#000"/>
<circle cx="499.30" cy="583.70" r="1.65" fill="#000"/>
<circle cx="499.30" cy="597.30" r="1.65" fill="#000"/>
<circle cx="496.20" cy="616.80" r="1.65" fill="#000"/>
<circle cx="502.70" cy="620.30" r="1.65" fill="#000"/>
<circle cx="496.20" cy="630.60" r="1.65" fill="#000"/>
<circle cx="502.70" cy="632.20" r="1.65" fill="#000"/>
<circle cx="499.30" cy="659.50" r="1.65" fill="#000"/>
<line x1="456.60" y1="661.00" x2="477.70" y2="661.00" stroke="#000" stroke-width="1.1" />
<line x1="489.10" y1="618.70" x2="510.50" y2="618.70" stroke="#000" stroke-width="1.1" />
<text x="448.70" y="580.60" font-size="10.2" text-anchor="start" fill="#000" stroke="#000" stroke-width="0.12"><tspan font-style="italic">P</tspan>=0.0074</text>
<line x1="462.30" y1="583.50" x2="491.00" y2="583.50" stroke="#8c8c8c" stroke-width="1.25" />
<text x="464.90" y="711.80" font-size="10.2" text-anchor="middle" fill="#000"  stroke="#000" stroke-width="0.15">-Dox</text>
<text x="494.70" y="711.80" font-size="10.2" text-anchor="middle" fill="#000"  stroke="#000" stroke-width="0.15">+Dox</text>
</svg>
</body></html>
